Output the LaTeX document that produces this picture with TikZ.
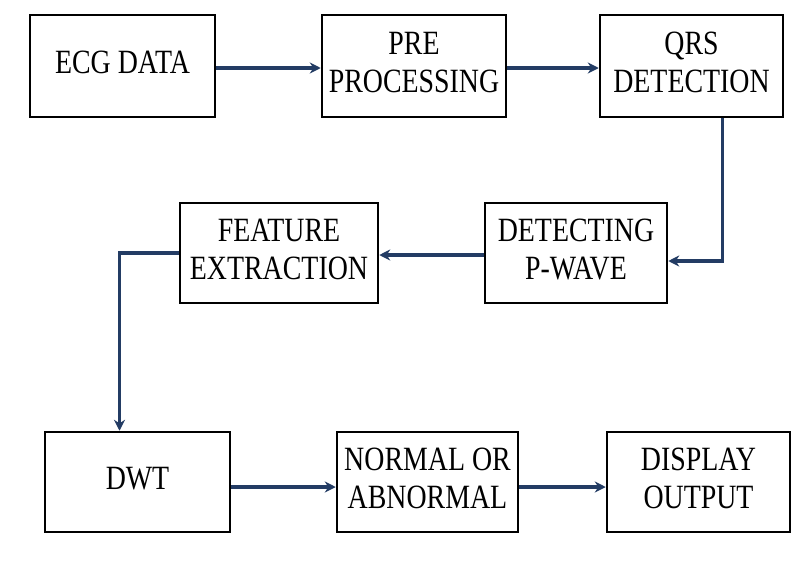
\documentclass[tikz,border=0pt]{standalone}
\usepackage{fontspec}
\setmainfont{Liberation Serif}
\usetikzlibrary{arrows.meta}
\definecolor{flowblue}{RGB}{35,60,100}
\newcommand{\blktext}[1]{\scalebox{0.82}[1]{\begin{tabular}{@{}c@{}}#1\end{tabular}}}
\tikzset{
  blk/.style={draw=black,line width=2.5pt,fill=white,align=center,
    font=\fontsize{34}{38}\selectfont,inner sep=0pt},
  flow/.style={draw=flowblue,line width=3.5pt,-{Stealth[length=11pt,width=11pt]}}
}
\begin{document}
\begin{tikzpicture}[x=1pt,y=-1pt]
\useasboundingbox(0,0)rectangle(809,573);
%
\node[blk,minimum width=185pt,minimum height=102pt](ecg)at(122.5,66){\blktext{ECG DATA}};
\node[blk,minimum width=184pt,minimum height=102pt](pre)at(414,66){\blktext{PRE\\PROCESSING}};
\node[blk,minimum width=183pt,minimum height=102pt](qrs)at(691.5,66){\blktext{QRS\\DETECTION}};
\node[blk,minimum width=182pt,minimum height=100pt](det)at(576,253){\blktext{DETECTING\\P-WAVE}};
\node[blk,minimum width=198pt,minimum height=100pt](feat)at(279,253){\blktext{FEATURE\\EXTRACTION}};
\node[blk,minimum width=185pt,minimum height=100pt](dwt)at(137.5,482){\blktext{DWT}};
\node[blk,minimum width=181pt,minimum height=100pt](norm)at(427.5,482){\blktext{NORMAL OR\\ABNORMAL}};
\node[blk,minimum width=183pt,minimum height=100pt](disp)at(698.5,482){\blktext{DISPLAY\\OUTPUT}};
%
\draw[flow]([yshift=-2]ecg.east)--([yshift=-2]pre.west);
\draw[flow]([yshift=-2]pre.east)--([yshift=-2]qrs.west);
\draw[flow]([xshift=31]qrs.south)|-([yshift=-8]det.east);
\draw[flow]([yshift=-2]det.west)--([yshift=-2]feat.east);
\draw[flow](feat.west)-|([xshift=-18]dwt.north);
\draw[flow]([yshift=-5]dwt.east)--([yshift=-5]norm.west);
\draw[flow]([yshift=-5]norm.east)--([yshift=-5]disp.west);
\end{tikzpicture}
\end{document}
